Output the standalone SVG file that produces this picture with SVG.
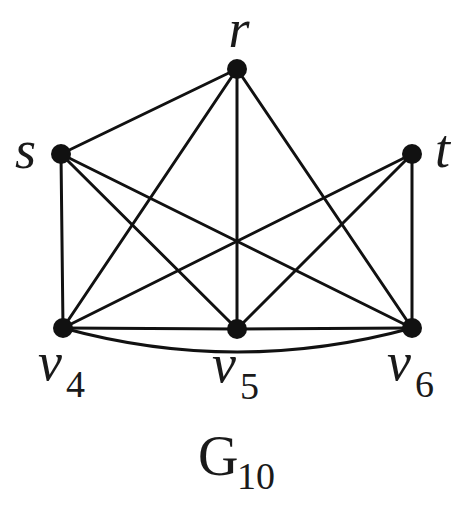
<svg xmlns="http://www.w3.org/2000/svg" width="474" height="509" viewBox="0 0 474 509">
<style>
.e{stroke:#111;stroke-width:3;fill:none;stroke-linecap:round}
.n{fill:#111}
.l{font-family:"Liberation Serif",serif;font-style:italic;font-size:54px;fill:#1a1a1a}
.sub{font-family:"Liberation Serif",serif;font-size:38px;fill:#1a1a1a}
.g{font-family:"Liberation Serif",serif;font-size:56px;fill:#1a1a1a}
</style>
<rect width="474" height="509" fill="#fff"/>
<g id="edges">
<line class="e" x1="237" y1="69" x2="61" y2="154"/>
<line class="e" x1="237" y1="69" x2="63" y2="328"/>
<line class="e" x1="237" y1="69" x2="237" y2="329"/>
<line class="e" x1="237" y1="69" x2="412" y2="328"/>
<line class="e" x1="61" y1="154" x2="63" y2="328"/>
<line class="e" x1="61" y1="154" x2="237" y2="329"/>
<line class="e" x1="61" y1="154" x2="412" y2="328"/>
<line class="e" x1="412" y1="154" x2="63" y2="328"/>
<line class="e" x1="412" y1="154" x2="237" y2="329"/>
<line class="e" x1="412" y1="154" x2="412" y2="328"/>
<line class="e" x1="63" y1="328" x2="237" y2="329"/>
<line class="e" x1="237" y1="329" x2="412" y2="328"/>
<path class="e" d="M63 328 Q237 376 412 328"/>
</g>
<g id="r"><circle class="n" cx="237" cy="69" r="10"/><text class="l" x="239" y="47" text-anchor="middle">r</text></g>
<g id="s"><circle class="n" cx="61" cy="154" r="10"/><text class="l" x="15" y="168">s</text></g>
<g id="t"><circle class="n" cx="412" cy="154" r="10"/><text class="l" x="435" y="167">t</text></g>
<g id="v4"><circle class="n" cx="63" cy="328" r="10"/><text class="l" x="38" y="380">v</text><text class="sub" x="66" y="397">4</text></g>
<g id="v5"><circle class="n" cx="237" cy="329" r="10"/><text class="l" x="212" y="382">v</text><text class="sub" x="240" y="399">5</text></g>
<g id="v6"><circle class="n" cx="412" cy="328" r="10"/><text class="l" x="387" y="380">v</text><text class="sub" x="415" y="397">6</text></g>
<g id="label"><text class="g" x="198" y="475">G</text><text class="sub" x="237" y="489">10</text></g>
</svg>
